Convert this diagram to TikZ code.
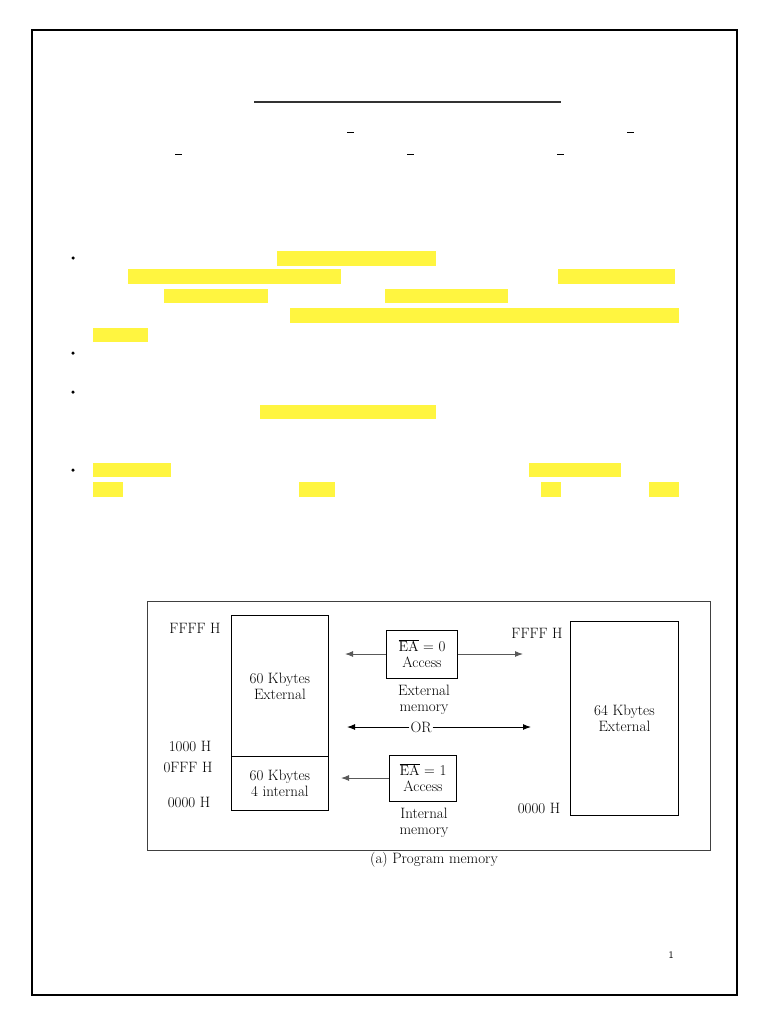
\documentclass[tikz,border=0pt]{standalone}
\usetikzlibrary{arrows.meta}
\begin{document}
\begin{tikzpicture}[x=1pt,y=-1pt,
  hl/.style={fill=yellow!75!white,draw=none},
  bul/.style={circle,fill=black,inner sep=0pt,minimum size=3.5pt},
  lbl/.style={font=\fontsize{15}{16}\selectfont,inner sep=1pt,align=center},
  garr/.style={-{Latex[length=8pt,width=6pt]},gray!70!black,line width=1pt},
  barr/.style={-{Latex[length=8pt,width=6pt]},black,line width=1pt}]
\useasboundingbox (0,0) rectangle (768,1024);
\draw[line width=1.3pt] (32,30) rectangle (737,995);
\draw[line width=1.2pt,black!80] (254,102) -- (561,102);
\foreach \x/\y in {350/133,630/133,178/155,410/155,560/155}
  \draw[line width=1pt] (\x-3,\y) -- (\x+4,\y);
\foreach \a/\b/\c/\d in {277/251/436/266,128/269/341/284,558/269/675/284,164/289/268/303,385/289/508/303,290/308/679/323,93/328/148/342,260/405/436/419,93/463/171/477,529/463/621/477,93/482/123/497,299/482/335/497,541/482/561/497,649/482/679/497}
  \fill[hl] (\a,\b) rectangle (\c,\d);
\foreach \y [count=\i] in {258,353,392,470} \node[bul] (b\i) at (73,\y) {};
% diagram
\draw[line width=0.9pt,black!75] (147,601) rectangle (710,850);
\node[draw,line width=0.8pt,minimum width=97pt,minimum height=141pt,anchor=north west,inner sep=0] (ext) at (231,615) {};
\node[draw,line width=0.8pt,minimum width=97pt,minimum height=54pt,anchor=north west,inner sep=0] (int) at (231,756) {};
\node[lbl] at (ext.center) {60 Kbytes\\External};
\node[lbl] at (int.center) {60 Kbytes\\4 internal};
\node[draw,line width=0.8pt,minimum width=108pt,minimum height=194pt,anchor=north west,inner sep=0] (rb) at (570,621) {};
\node[lbl] at (rb.center) {64 Kbytes\\External};
\node[lbl,draw,line width=0.8pt,minimum width=71pt,minimum height=48pt] (ea0) at (422,654) {$\overline{\mathrm{EA}}$ = 0\\Access};
\node[lbl,draw,line width=0.8pt,minimum width=67pt,minimum height=46pt] (ea1) at (423,778) {$\overline{\mathrm{EA}}$ = 1\\Access};
\node[lbl] (em) at (424,700) {External\\memory};
\node[lbl] (im) at (424,823) {Internal\\memory};
\node[lbl] (or) at (421,727) {OR};
\coordinate (t1) at (345,657); \coordinate (t2) at (523,658);
\coordinate (o1) at (347,726); \coordinate (o2) at (531,726);
\coordinate (u1) at (341,777);
\draw[garr] (ea0.west) -- (t1 |- ea0.west);
\draw[garr] (ea0.east) -- (t2 |- ea0.east);
\draw[barr] (or.west) -- (o1 |- or.west);
\draw[barr] (or.east) -- (o2 |- or.east);
\draw[garr] (ea1.west) -- (u1 |- ea1.west);
\node[lbl] at (195,628) {FFFF H};
\node[lbl] at (190,746) {1000 H};
\node[lbl] at (188,767) {0FFF H};
\node[lbl] at (189,802) {0000 H};
\node[lbl] at (537,633) {FFFF H};
\node[lbl] at (539,808) {0000 H};
\node[lbl] at (434,860) {(a) Program memory};
\node[font=\fontsize{10}{12}\selectfont\sffamily] at (671,955) {1};
\end{tikzpicture}
\end{document}
